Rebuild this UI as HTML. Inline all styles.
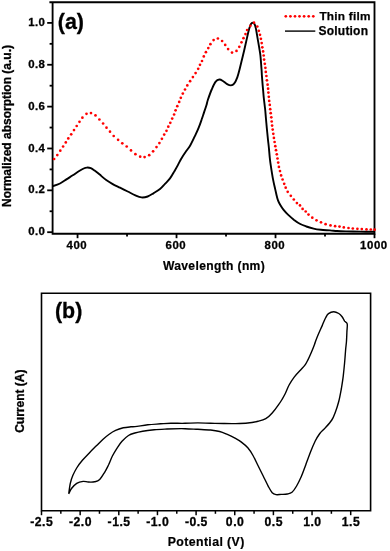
<!DOCTYPE html>
<html><head><meta charset="utf-8"><style>
html,body{margin:0;padding:0;background:#fff;width:390px;height:551px;overflow:hidden}
svg{display:block;will-change:transform}
</style></head><body>
<svg width="390" height="551" viewBox="0 0 390 551">
<rect width="390" height="551" fill="#fff"/>
<path d="M49.4,2.2 H374.5 V233.7 H52.6 V2.2" fill="none" stroke="#000" stroke-width="1.85"/>
<line x1="47.2" y1="232.20" x2="52.8" y2="232.20" stroke="#000" stroke-width="1.8"/>
<text x="45.2" y="235.2" font-family="&apos;Liberation Sans&apos;, sans-serif" font-weight="bold" stroke="#000" stroke-width="0.3" font-size="11.4" text-anchor="end" letter-spacing="0.4">0.0</text>
<line x1="49.6" y1="211.27" x2="52.8" y2="211.27" stroke="#000" stroke-width="1.8"/>
<line x1="47.2" y1="190.34" x2="52.8" y2="190.34" stroke="#000" stroke-width="1.8"/>
<text x="45.2" y="193.3" font-family="&apos;Liberation Sans&apos;, sans-serif" font-weight="bold" stroke="#000" stroke-width="0.3" font-size="11.4" text-anchor="end" letter-spacing="0.4">0.2</text>
<line x1="49.6" y1="169.41" x2="52.8" y2="169.41" stroke="#000" stroke-width="1.8"/>
<line x1="47.2" y1="148.48" x2="52.8" y2="148.48" stroke="#000" stroke-width="1.8"/>
<text x="45.2" y="151.5" font-family="&apos;Liberation Sans&apos;, sans-serif" font-weight="bold" stroke="#000" stroke-width="0.3" font-size="11.4" text-anchor="end" letter-spacing="0.4">0.4</text>
<line x1="49.6" y1="127.55" x2="52.8" y2="127.55" stroke="#000" stroke-width="1.8"/>
<line x1="47.2" y1="106.62" x2="52.8" y2="106.62" stroke="#000" stroke-width="1.8"/>
<text x="45.2" y="109.6" font-family="&apos;Liberation Sans&apos;, sans-serif" font-weight="bold" stroke="#000" stroke-width="0.3" font-size="11.4" text-anchor="end" letter-spacing="0.4">0.6</text>
<line x1="49.6" y1="85.69" x2="52.8" y2="85.69" stroke="#000" stroke-width="1.8"/>
<line x1="47.2" y1="64.76" x2="52.8" y2="64.76" stroke="#000" stroke-width="1.8"/>
<text x="45.2" y="67.8" font-family="&apos;Liberation Sans&apos;, sans-serif" font-weight="bold" stroke="#000" stroke-width="0.3" font-size="11.4" text-anchor="end" letter-spacing="0.4">0.8</text>
<line x1="49.6" y1="43.83" x2="52.8" y2="43.83" stroke="#000" stroke-width="1.8"/>
<line x1="47.2" y1="22.90" x2="52.8" y2="22.90" stroke="#000" stroke-width="1.8"/>
<text x="45.2" y="25.9" font-family="&apos;Liberation Sans&apos;, sans-serif" font-weight="bold" stroke="#000" stroke-width="0.3" font-size="11.4" text-anchor="end" letter-spacing="0.4">1.0</text>
<line x1="77.55" y1="233.7" x2="77.55" y2="238.2" stroke="#000" stroke-width="1.8"/>
<text x="76.9" y="248.8" font-family="&apos;Liberation Sans&apos;, sans-serif" font-weight="bold" stroke="#000" stroke-width="0.3" font-size="11.4" text-anchor="middle" letter-spacing="0.6">400</text>
<line x1="127.04" y1="233.7" x2="127.04" y2="236.5" stroke="#000" stroke-width="1.8"/>
<line x1="176.53" y1="233.7" x2="176.53" y2="238.2" stroke="#000" stroke-width="1.8"/>
<text x="175.9" y="248.8" font-family="&apos;Liberation Sans&apos;, sans-serif" font-weight="bold" stroke="#000" stroke-width="0.3" font-size="11.4" text-anchor="middle" letter-spacing="0.6">600</text>
<line x1="226.02" y1="233.7" x2="226.02" y2="236.5" stroke="#000" stroke-width="1.8"/>
<line x1="275.52" y1="233.7" x2="275.52" y2="238.2" stroke="#000" stroke-width="1.8"/>
<text x="274.9" y="248.8" font-family="&apos;Liberation Sans&apos;, sans-serif" font-weight="bold" stroke="#000" stroke-width="0.3" font-size="11.4" text-anchor="middle" letter-spacing="0.6">800</text>
<line x1="325.01" y1="233.7" x2="325.01" y2="236.5" stroke="#000" stroke-width="1.8"/>
<line x1="374.50" y1="233.7" x2="374.50" y2="238.2" stroke="#000" stroke-width="1.8"/>
<text x="373.9" y="248.8" font-family="&apos;Liberation Sans&apos;, sans-serif" font-weight="bold" stroke="#000" stroke-width="0.3" font-size="11.4" text-anchor="middle" letter-spacing="0.6">1000</text>
<text x="214" y="269.5" font-family="&apos;Liberation Sans&apos;, sans-serif" font-weight="bold" stroke="#000" stroke-width="0.2" font-size="12.1" letter-spacing="0.35" text-anchor="middle">Wavelength (nm)</text>
<text transform="translate(10.6,126) rotate(-90)" x="0" y="0" font-family="&apos;Liberation Sans&apos;, sans-serif" font-weight="bold" stroke="#000" stroke-width="0.3" font-size="12" text-anchor="middle">Normalized absorption (a.u.)</text>
<text x="57.8" y="28.8" font-family="&apos;Liberation Sans&apos;, sans-serif" font-weight="bold" stroke="#000" stroke-width="0.3" font-size="21.4">(a)</text>
<g fill="#f00"><circle cx="285.8" cy="16.3" r="1.35"/><circle cx="290.4" cy="16.3" r="1.35"/><circle cx="295.0" cy="16.3" r="1.35"/><circle cx="299.5" cy="16.3" r="1.35"/><circle cx="304.1" cy="16.3" r="1.35"/><circle cx="308.7" cy="16.3" r="1.35"/><circle cx="313.3" cy="16.3" r="1.35"/></g>
<line x1="285" y1="31.1" x2="315.3" y2="31.1" stroke="#000" stroke-width="1.4"/>
<text x="319.4" y="19.7" font-family="&apos;Liberation Sans&apos;, sans-serif" font-weight="bold" stroke="#000" stroke-width="0.25" font-size="11.8" letter-spacing="0.25">Thin film</text>
<text x="318.6" y="35" font-family="&apos;Liberation Sans&apos;, sans-serif" font-weight="bold" stroke="#000" stroke-width="0.25" font-size="12" letter-spacing="0.2">Solution</text>
<path d="M52.7,186.2 C53.9,185.8 57.7,184.6 60.0,183.5 C62.3,182.4 64.3,180.8 66.4,179.4 C68.5,178.0 70.7,176.7 72.8,175.3 C74.9,173.9 77.4,172.1 79.2,171.0 C81.0,169.9 82.4,169.1 83.7,168.5 C85.0,167.9 85.7,167.7 86.9,167.6 C88.1,167.5 89.5,167.7 90.8,168.2 C92.1,168.7 93.1,169.5 94.6,170.6 C96.1,171.7 97.8,173.0 99.7,174.6 C101.6,176.2 104.1,178.5 106.2,180.0 C108.3,181.5 110.0,182.5 112.3,183.8 C114.6,185.1 117.4,186.4 120.0,187.7 C122.6,189.0 125.1,190.2 127.7,191.5 C130.3,192.8 133.1,194.4 135.4,195.4 C137.7,196.4 139.4,197.2 141.5,197.4 C143.6,197.6 145.6,197.2 147.7,196.5 C149.8,195.8 151.8,194.3 153.8,193.1 C155.9,191.8 158.1,190.5 160.0,189.0 C161.9,187.5 163.3,185.7 165.0,183.9 C166.7,182.1 168.5,180.4 170.0,178.4 C171.5,176.4 172.7,174.2 174.0,171.9 C175.3,169.7 176.8,167.2 178.0,164.9 C179.2,162.7 180.1,160.6 181.4,158.4 C182.7,156.2 184.4,153.7 185.9,151.5 C187.4,149.3 188.7,148.1 190.2,145.5 C191.7,142.9 193.6,138.8 195.0,135.8 C196.4,132.8 197.7,130.1 198.8,127.3 C200.0,124.5 201.0,121.4 201.9,118.8 C202.8,116.2 203.4,114.2 204.2,111.9 C205.0,109.6 205.9,107.0 206.5,105.0 C207.1,103.0 207.0,102.3 207.9,99.7 C208.8,97.1 210.4,92.5 211.7,89.5 C213.0,86.5 214.2,83.5 215.5,81.8 C216.8,80.1 218.1,79.6 219.4,79.5 C220.7,79.4 221.9,80.4 223.2,81.2 C224.5,82.0 225.8,83.4 227.1,84.1 C228.4,84.8 229.7,85.5 230.9,85.4 C232.1,85.3 233.0,85.1 234.1,83.7 C235.2,82.3 236.4,79.7 237.3,77.3 C238.2,74.9 238.7,72.9 239.6,69.3 C240.5,65.7 241.9,59.8 242.9,55.7 C243.9,51.7 244.7,48.2 245.4,45.0 C246.1,41.8 246.7,39.2 247.3,36.5 C247.9,33.8 248.6,30.9 249.2,28.8 C249.8,26.8 250.2,25.2 250.8,24.2 C251.4,23.2 252.1,22.7 252.7,22.7 C253.3,22.7 254.1,23.3 254.6,24.2 C255.1,25.1 255.4,26.4 255.8,28.1 C256.2,29.8 256.5,32.2 256.9,34.2 C257.2,36.2 257.5,38.0 257.9,40.2 C258.3,42.5 258.8,45.2 259.2,47.7 C259.6,50.2 260.0,51.9 260.4,55.4 C260.8,58.9 261.2,65.6 261.5,69.0 C261.8,72.4 261.7,73.3 261.9,75.7 C262.1,78.1 262.3,80.8 262.5,83.4 C262.7,86.0 263.0,88.7 263.2,91.1 C263.4,93.5 263.5,95.2 263.8,98.0 C264.1,100.8 264.6,104.7 265.0,108.0 C265.4,111.3 265.6,114.7 265.9,118.0 C266.2,121.3 266.5,124.7 266.8,128.0 C267.1,131.3 267.5,134.7 267.8,138.0 C268.1,141.3 268.6,144.7 268.9,148.0 C269.2,151.3 269.5,155.1 269.8,158.0 C270.1,160.9 270.4,163.1 270.8,165.7 C271.2,168.3 271.6,170.8 272.0,173.4 C272.4,176.0 272.8,178.4 273.4,181.1 C273.9,183.8 274.8,187.3 275.3,189.6 C275.8,191.9 276.1,193.2 276.5,195.0 C276.9,196.8 277.4,198.7 278.0,200.4 C278.6,202.1 279.4,203.5 280.3,205.0 C281.2,206.5 282.1,208.0 283.4,209.6 C284.7,211.2 286.2,212.9 288.0,214.6 C289.8,216.3 292.1,218.3 294.1,219.9 C296.2,221.5 298.2,222.9 300.3,224.0 C302.4,225.1 304.2,225.7 306.4,226.5 C308.6,227.3 311.2,228.0 313.6,228.6 C316.0,229.2 318.1,229.5 320.8,229.8 C323.5,230.1 327.3,230.2 330.0,230.4 C332.7,230.6 334.3,230.8 337.0,231.0 C339.7,231.2 342.2,231.3 346.0,231.4 C349.8,231.5 355.2,231.5 360.0,231.6 C364.8,231.7 372.2,231.8 374.6,231.8" fill="none" stroke="#000" stroke-width="1.9"/>
<g fill="#f00"><circle cx="54.1" cy="159.0" r="1.35"/><circle cx="57.3" cy="155.1" r="1.35"/><circle cx="60.3" cy="150.7" r="1.35"/><circle cx="63.1" cy="146.5" r="1.35"/><circle cx="65.8" cy="142.4" r="1.35"/><circle cx="68.3" cy="138.4" r="1.35"/><circle cx="71.2" cy="134.3" r="1.35"/><circle cx="74.0" cy="130.1" r="1.35"/><circle cx="76.7" cy="126.0" r="1.35"/><circle cx="79.5" cy="121.8" r="1.35"/><circle cx="82.4" cy="117.7" r="1.35"/><circle cx="86.5" cy="113.8" r="1.35"/><circle cx="91.0" cy="113.1" r="1.35"/><circle cx="95.5" cy="115.4" r="1.35"/><circle cx="99.4" cy="119.5" r="1.35"/><circle cx="103.1" cy="123.5" r="1.35"/><circle cx="106.5" cy="127.7" r="1.35"/><circle cx="110.0" cy="131.7" r="1.35"/><circle cx="113.7" cy="136.0" r="1.35"/><circle cx="118.1" cy="139.8" r="1.35"/><circle cx="122.3" cy="143.3" r="1.35"/><circle cx="126.7" cy="146.5" r="1.35"/><circle cx="131.0" cy="150.4" r="1.35"/><circle cx="135.4" cy="154.2" r="1.35"/><circle cx="140.2" cy="156.7" r="1.35"/><circle cx="144.6" cy="157.1" r="1.35"/><circle cx="149.2" cy="155.2" r="1.35"/><circle cx="153.1" cy="151.3" r="1.35"/><circle cx="156.5" cy="147.1" r="1.35"/><circle cx="159.4" cy="143.1" r="1.35"/><circle cx="161.9" cy="138.8" r="1.35"/><circle cx="164.2" cy="134.6" r="1.35"/><circle cx="166.5" cy="130.8" r="1.35"/><circle cx="168.3" cy="126.7" r="1.35"/><circle cx="170.3" cy="122.8" r="1.35"/><circle cx="172.2" cy="118.6" r="1.35"/><circle cx="174.1" cy="114.5" r="1.35"/><circle cx="175.6" cy="110.3" r="1.35"/><circle cx="177.3" cy="106.2" r="1.35"/><circle cx="179.2" cy="101.9" r="1.35"/><circle cx="180.8" cy="97.8" r="1.35"/><circle cx="182.8" cy="93.6" r="1.35"/><circle cx="185.0" cy="89.5" r="1.35"/><circle cx="187.3" cy="85.4" r="1.35"/><circle cx="190.1" cy="81.2" r="1.35"/><circle cx="192.9" cy="77.1" r="1.35"/><circle cx="195.6" cy="73.1" r="1.35"/><circle cx="198.2" cy="68.8" r="1.35"/><circle cx="200.0" cy="64.8" r="1.35"/><circle cx="202.0" cy="61.0" r="1.35"/><circle cx="203.8" cy="56.4" r="1.35"/><circle cx="205.9" cy="52.2" r="1.35"/><circle cx="208.3" cy="48.1" r="1.35"/><circle cx="210.4" cy="44.2" r="1.35"/><circle cx="213.6" cy="40.1" r="1.35"/><circle cx="217.9" cy="38.5" r="1.35"/><circle cx="222.1" cy="41.0" r="1.35"/><circle cx="225.2" cy="44.9" r="1.35"/><circle cx="228.1" cy="49.1" r="1.35"/><circle cx="232.0" cy="52.6" r="1.35"/><circle cx="236.5" cy="50.9" r="1.35"/><circle cx="239.3" cy="46.8" r="1.35"/><circle cx="241.5" cy="42.3" r="1.35"/><circle cx="243.5" cy="38.2" r="1.35"/><circle cx="245.5" cy="34.1" r="1.35"/><circle cx="247.1" cy="30.0" r="1.35"/><circle cx="250.4" cy="25.8" r="1.35"/><circle cx="254.0" cy="22.7" r="1.35"/><circle cx="257.3" cy="26.5" r="1.35"/><circle cx="258.8" cy="30.8" r="1.35"/><circle cx="260.0" cy="34.8" r="1.35"/><circle cx="260.9" cy="38.8" r="1.35"/><circle cx="261.7" cy="43.1" r="1.35"/><circle cx="262.3" cy="47.3" r="1.35"/><circle cx="263.1" cy="51.4" r="1.35"/><circle cx="263.7" cy="55.5" r="1.35"/><circle cx="264.1" cy="59.6" r="1.35"/><circle cx="264.8" cy="63.8" r="1.35"/><circle cx="265.4" cy="67.8" r="1.35"/><circle cx="265.8" cy="71.9" r="1.35"/><circle cx="266.4" cy="76.0" r="1.35"/><circle cx="266.9" cy="80.3" r="1.35"/><circle cx="267.6" cy="84.7" r="1.35"/><circle cx="268.1" cy="88.7" r="1.35"/><circle cx="268.4" cy="92.6" r="1.35"/><circle cx="268.8" cy="96.8" r="1.35"/><circle cx="269.2" cy="100.9" r="1.35"/><circle cx="269.8" cy="104.9" r="1.35"/><circle cx="270.2" cy="109.2" r="1.35"/><circle cx="270.7" cy="113.2" r="1.35"/><circle cx="271.3" cy="117.3" r="1.35"/><circle cx="271.7" cy="121.5" r="1.35"/><circle cx="272.1" cy="125.6" r="1.35"/><circle cx="272.7" cy="129.6" r="1.35"/><circle cx="273.3" cy="133.8" r="1.35"/><circle cx="273.9" cy="137.9" r="1.35"/><circle cx="274.6" cy="142.0" r="1.35"/><circle cx="275.3" cy="146.2" r="1.35"/><circle cx="276.0" cy="150.2" r="1.35"/><circle cx="276.8" cy="154.3" r="1.35"/><circle cx="277.5" cy="158.5" r="1.35"/><circle cx="278.2" cy="162.6" r="1.35"/><circle cx="278.9" cy="166.9" r="1.35"/><circle cx="280.0" cy="171.1" r="1.35"/><circle cx="281.1" cy="175.4" r="1.35"/><circle cx="282.6" cy="179.5" r="1.35"/><circle cx="284.2" cy="183.8" r="1.35"/><circle cx="285.7" cy="187.7" r="1.35"/><circle cx="287.7" cy="191.8" r="1.35"/><circle cx="290.8" cy="195.8" r="1.35"/><circle cx="293.8" cy="199.5" r="1.35"/><circle cx="296.9" cy="203.1" r="1.35"/><circle cx="300.0" cy="205.4" r="1.35"/><circle cx="302.6" cy="208.9" r="1.35"/><circle cx="305.7" cy="211.5" r="1.35"/><circle cx="308.5" cy="214.6" r="1.35"/><circle cx="312.3" cy="217.7" r="1.35"/><circle cx="316.5" cy="220.3" r="1.35"/><circle cx="321.0" cy="222.3" r="1.35"/><circle cx="325.6" cy="224.2" r="1.35"/><circle cx="330.5" cy="225.4" r="1.35"/><circle cx="335.1" cy="226.2" r="1.35"/><circle cx="339.5" cy="226.6" r="1.35"/><circle cx="343.8" cy="227.4" r="1.35"/><circle cx="348.5" cy="228.0" r="1.35"/><circle cx="352.8" cy="228.5" r="1.35"/><circle cx="357.4" cy="228.8" r="1.35"/><circle cx="361.8" cy="229.1" r="1.35"/><circle cx="366.5" cy="229.4" r="1.35"/><circle cx="370.8" cy="229.5" r="1.35"/><circle cx="374.6" cy="229.7" r="1.35"/></g>
<path d="M41.5,293.2 H370.6 V510.8 H41.5 Z" fill="none" stroke="#000" stroke-width="1.6"/>
<line x1="41.50" y1="510.8" x2="41.50" y2="515.2" stroke="#000" stroke-width="1.5"/>
<text x="41.8" y="526.4" font-family="&apos;Liberation Sans&apos;, sans-serif" font-weight="bold" stroke="#000" stroke-width="0.3" font-size="12.2" text-anchor="middle" letter-spacing="0.5">-2.5</text>
<line x1="60.83" y1="510.8" x2="60.83" y2="513.8" stroke="#000" stroke-width="1.5"/>
<line x1="80.15" y1="510.8" x2="80.15" y2="515.2" stroke="#000" stroke-width="1.5"/>
<text x="80.5" y="526.4" font-family="&apos;Liberation Sans&apos;, sans-serif" font-weight="bold" stroke="#000" stroke-width="0.3" font-size="12.2" text-anchor="middle" letter-spacing="0.5">-2.0</text>
<line x1="99.47" y1="510.8" x2="99.47" y2="513.8" stroke="#000" stroke-width="1.5"/>
<line x1="118.80" y1="510.8" x2="118.80" y2="515.2" stroke="#000" stroke-width="1.5"/>
<text x="119.1" y="526.4" font-family="&apos;Liberation Sans&apos;, sans-serif" font-weight="bold" stroke="#000" stroke-width="0.3" font-size="12.2" text-anchor="middle" letter-spacing="0.5">-1.5</text>
<line x1="138.12" y1="510.8" x2="138.12" y2="513.8" stroke="#000" stroke-width="1.5"/>
<line x1="157.45" y1="510.8" x2="157.45" y2="515.2" stroke="#000" stroke-width="1.5"/>
<text x="157.8" y="526.4" font-family="&apos;Liberation Sans&apos;, sans-serif" font-weight="bold" stroke="#000" stroke-width="0.3" font-size="12.2" text-anchor="middle" letter-spacing="0.5">-1.0</text>
<line x1="176.78" y1="510.8" x2="176.78" y2="513.8" stroke="#000" stroke-width="1.5"/>
<line x1="196.10" y1="510.8" x2="196.10" y2="515.2" stroke="#000" stroke-width="1.5"/>
<text x="196.4" y="526.4" font-family="&apos;Liberation Sans&apos;, sans-serif" font-weight="bold" stroke="#000" stroke-width="0.3" font-size="12.2" text-anchor="middle" letter-spacing="0.5">-0.5</text>
<line x1="215.42" y1="510.8" x2="215.42" y2="513.8" stroke="#000" stroke-width="1.5"/>
<line x1="234.75" y1="510.8" x2="234.75" y2="515.2" stroke="#000" stroke-width="1.5"/>
<text x="235.1" y="526.4" font-family="&apos;Liberation Sans&apos;, sans-serif" font-weight="bold" stroke="#000" stroke-width="0.3" font-size="12.2" text-anchor="middle" letter-spacing="0.5">0.0</text>
<line x1="254.07" y1="510.8" x2="254.07" y2="513.8" stroke="#000" stroke-width="1.5"/>
<line x1="273.40" y1="510.8" x2="273.40" y2="515.2" stroke="#000" stroke-width="1.5"/>
<text x="273.7" y="526.4" font-family="&apos;Liberation Sans&apos;, sans-serif" font-weight="bold" stroke="#000" stroke-width="0.3" font-size="12.2" text-anchor="middle" letter-spacing="0.5">0.5</text>
<line x1="292.73" y1="510.8" x2="292.73" y2="513.8" stroke="#000" stroke-width="1.5"/>
<line x1="312.05" y1="510.8" x2="312.05" y2="515.2" stroke="#000" stroke-width="1.5"/>
<text x="312.4" y="526.4" font-family="&apos;Liberation Sans&apos;, sans-serif" font-weight="bold" stroke="#000" stroke-width="0.3" font-size="12.2" text-anchor="middle" letter-spacing="0.5">1.0</text>
<line x1="331.38" y1="510.8" x2="331.38" y2="513.8" stroke="#000" stroke-width="1.5"/>
<line x1="350.70" y1="510.8" x2="350.70" y2="515.2" stroke="#000" stroke-width="1.5"/>
<text x="351.0" y="526.4" font-family="&apos;Liberation Sans&apos;, sans-serif" font-weight="bold" stroke="#000" stroke-width="0.3" font-size="12.2" text-anchor="middle" letter-spacing="0.5">1.5</text>
<text x="206.2" y="546.1" font-family="&apos;Liberation Sans&apos;, sans-serif" font-weight="bold" stroke="#000" stroke-width="0.2" font-size="12.3" letter-spacing="0.4" text-anchor="middle">Potential (V)</text>
<text transform="translate(24.2,401.2) rotate(-90)" x="0" y="0" font-family="&apos;Liberation Sans&apos;, sans-serif" font-weight="bold" stroke="#000" stroke-width="0.3" font-size="12" text-anchor="middle">Current (A)</text>
<text x="55" y="318.2" font-family="&apos;Liberation Sans&apos;, sans-serif" font-weight="bold" stroke="#000" stroke-width="0.3" font-size="21.4">(b)</text>
<path d="M68.7,493.8 C69.0,492.1 69.6,486.3 70.3,483.3 C71.0,480.3 71.7,478.2 72.8,475.6 C73.9,473.1 75.1,470.6 76.7,468.0 C78.3,465.4 80.2,462.9 82.4,460.3 C84.6,457.7 87.7,454.6 90.0,452.2 C92.3,449.8 94.3,447.9 96.4,445.8 C98.5,443.7 100.7,441.3 102.8,439.4 C104.9,437.5 107.1,435.7 109.2,434.2 C111.3,432.7 113.2,431.5 115.6,430.4 C117.9,429.3 120.7,428.4 123.3,427.8 C125.9,427.2 129.1,427.0 131.0,426.8 C132.9,426.6 132.2,426.9 135.0,426.6 C137.8,426.3 143.5,425.3 147.8,424.8 C152.1,424.3 156.8,424.1 160.6,423.8 C164.4,423.6 166.8,423.4 170.9,423.3 C175.0,423.2 180.5,423.4 185.0,423.3 C189.5,423.2 193.5,422.9 197.8,422.9 C202.1,422.9 206.3,423.2 210.6,423.3 C214.9,423.4 219.4,423.4 223.5,423.5 C227.6,423.6 230.9,423.7 235.0,423.6 C239.1,423.5 244.0,423.4 247.8,423.0 C251.7,422.6 255.1,422.0 258.1,421.3 C261.1,420.6 263.5,420.1 265.8,418.7 C268.1,417.3 270.1,415.4 272.2,413.0 C274.3,410.6 277.0,406.9 278.6,404.6 C280.2,402.4 280.9,401.4 282.0,399.5 C283.1,397.6 284.1,395.9 285.3,393.5 C286.5,391.1 287.6,387.7 289.1,385.0 C290.6,382.3 292.3,379.6 294.2,377.1 C296.1,374.6 298.8,372.0 300.6,370.0 C302.4,368.0 303.8,366.7 305.1,364.9 C306.4,363.1 307.2,361.2 308.3,359.1 C309.4,357.0 310.5,354.5 311.5,352.1 C312.5,349.7 313.6,347.0 314.5,344.5 C315.4,342.0 315.8,340.3 317.1,337.2 C318.4,334.1 320.8,328.8 322.2,325.6 C323.6,322.4 324.4,320.0 325.5,318.0 C326.6,316.0 327.1,314.6 328.5,313.6 C329.9,312.6 332.0,311.8 333.7,311.8 C335.4,311.8 337.4,312.7 338.8,313.5 C340.2,314.3 341.1,315.4 342.1,316.7 C343.1,318.0 343.8,320.0 344.6,321.2 C345.5,322.4 346.8,322.1 347.2,323.9 C347.6,325.7 347.0,329.1 346.9,332.0 C346.8,334.9 346.7,338.0 346.5,341.0 C346.3,344.0 345.9,346.4 345.6,350.0 C345.3,353.6 345.0,358.5 344.6,362.8 C344.2,367.1 343.8,371.3 343.3,375.6 C342.8,379.9 342.1,384.2 341.4,388.5 C340.6,392.8 339.8,397.5 338.8,401.3 C337.8,405.1 336.8,408.4 335.6,411.5 C334.4,414.6 333.6,417.2 331.8,420.0 C330.0,422.8 327.0,425.9 325.0,428.1 C323.0,430.4 321.4,431.3 319.8,433.5 C318.2,435.7 316.7,438.1 315.1,441.2 C313.6,444.3 312.0,448.1 310.5,452.0 C309.0,455.9 307.4,460.3 305.9,464.4 C304.3,468.5 302.8,473.1 301.2,476.7 C299.6,480.3 298.1,483.4 296.6,486.0 C295.1,488.6 293.6,490.9 292.0,492.2 C290.4,493.5 289.1,493.6 287.3,494.0 C285.5,494.4 283.1,494.3 281.2,494.4 C279.3,494.5 277.5,494.9 276.0,494.6 C274.5,494.3 273.5,494.1 272.2,492.7 C270.9,491.3 269.8,489.1 268.3,486.3 C266.8,483.5 264.9,479.4 263.2,476.0 C261.5,472.6 259.8,469.2 258.1,465.8 C256.4,462.4 254.7,458.5 253.0,455.5 C251.3,452.5 249.7,450.0 247.8,447.8 C245.9,445.6 243.5,443.7 241.4,442.1 C239.3,440.5 237.3,439.5 235.0,438.2 C232.7,436.9 229.9,435.5 227.3,434.4 C224.7,433.3 222.4,432.2 219.6,431.5 C216.8,430.8 214.2,430.4 210.6,430.0 C207.0,429.6 202.1,429.5 197.8,429.3 C193.5,429.1 190.1,428.8 185.0,428.7 C179.9,428.6 172.1,428.8 167.0,429.0 C161.9,429.2 158.2,429.3 154.2,429.7 C150.1,430.1 145.9,430.6 142.7,431.2 C139.5,431.8 137.3,432.3 134.9,433.0 C132.5,433.7 130.7,434.1 128.5,435.5 C126.3,436.9 123.9,439.2 122.0,441.3 C120.1,443.4 118.5,445.9 116.9,448.3 C115.3,450.8 113.8,453.2 112.4,456.0 C111.0,458.8 109.8,462.2 108.6,464.8 C107.3,467.4 106.4,469.4 104.9,471.8 C103.4,474.2 101.4,477.8 99.7,479.5 C98.0,481.2 96.5,481.4 94.6,481.8 C92.7,482.2 90.1,482.1 88.2,482.0 C86.3,481.9 85.0,481.2 83.1,481.4 C81.2,481.6 78.6,482.1 76.7,483.3 C74.8,484.5 72.8,486.8 71.5,488.5 C70.2,490.2 69.2,492.9 68.7,493.8" fill="none" stroke="#000" stroke-width="1.4" stroke-linejoin="round"/>
</svg>
</body></html>
